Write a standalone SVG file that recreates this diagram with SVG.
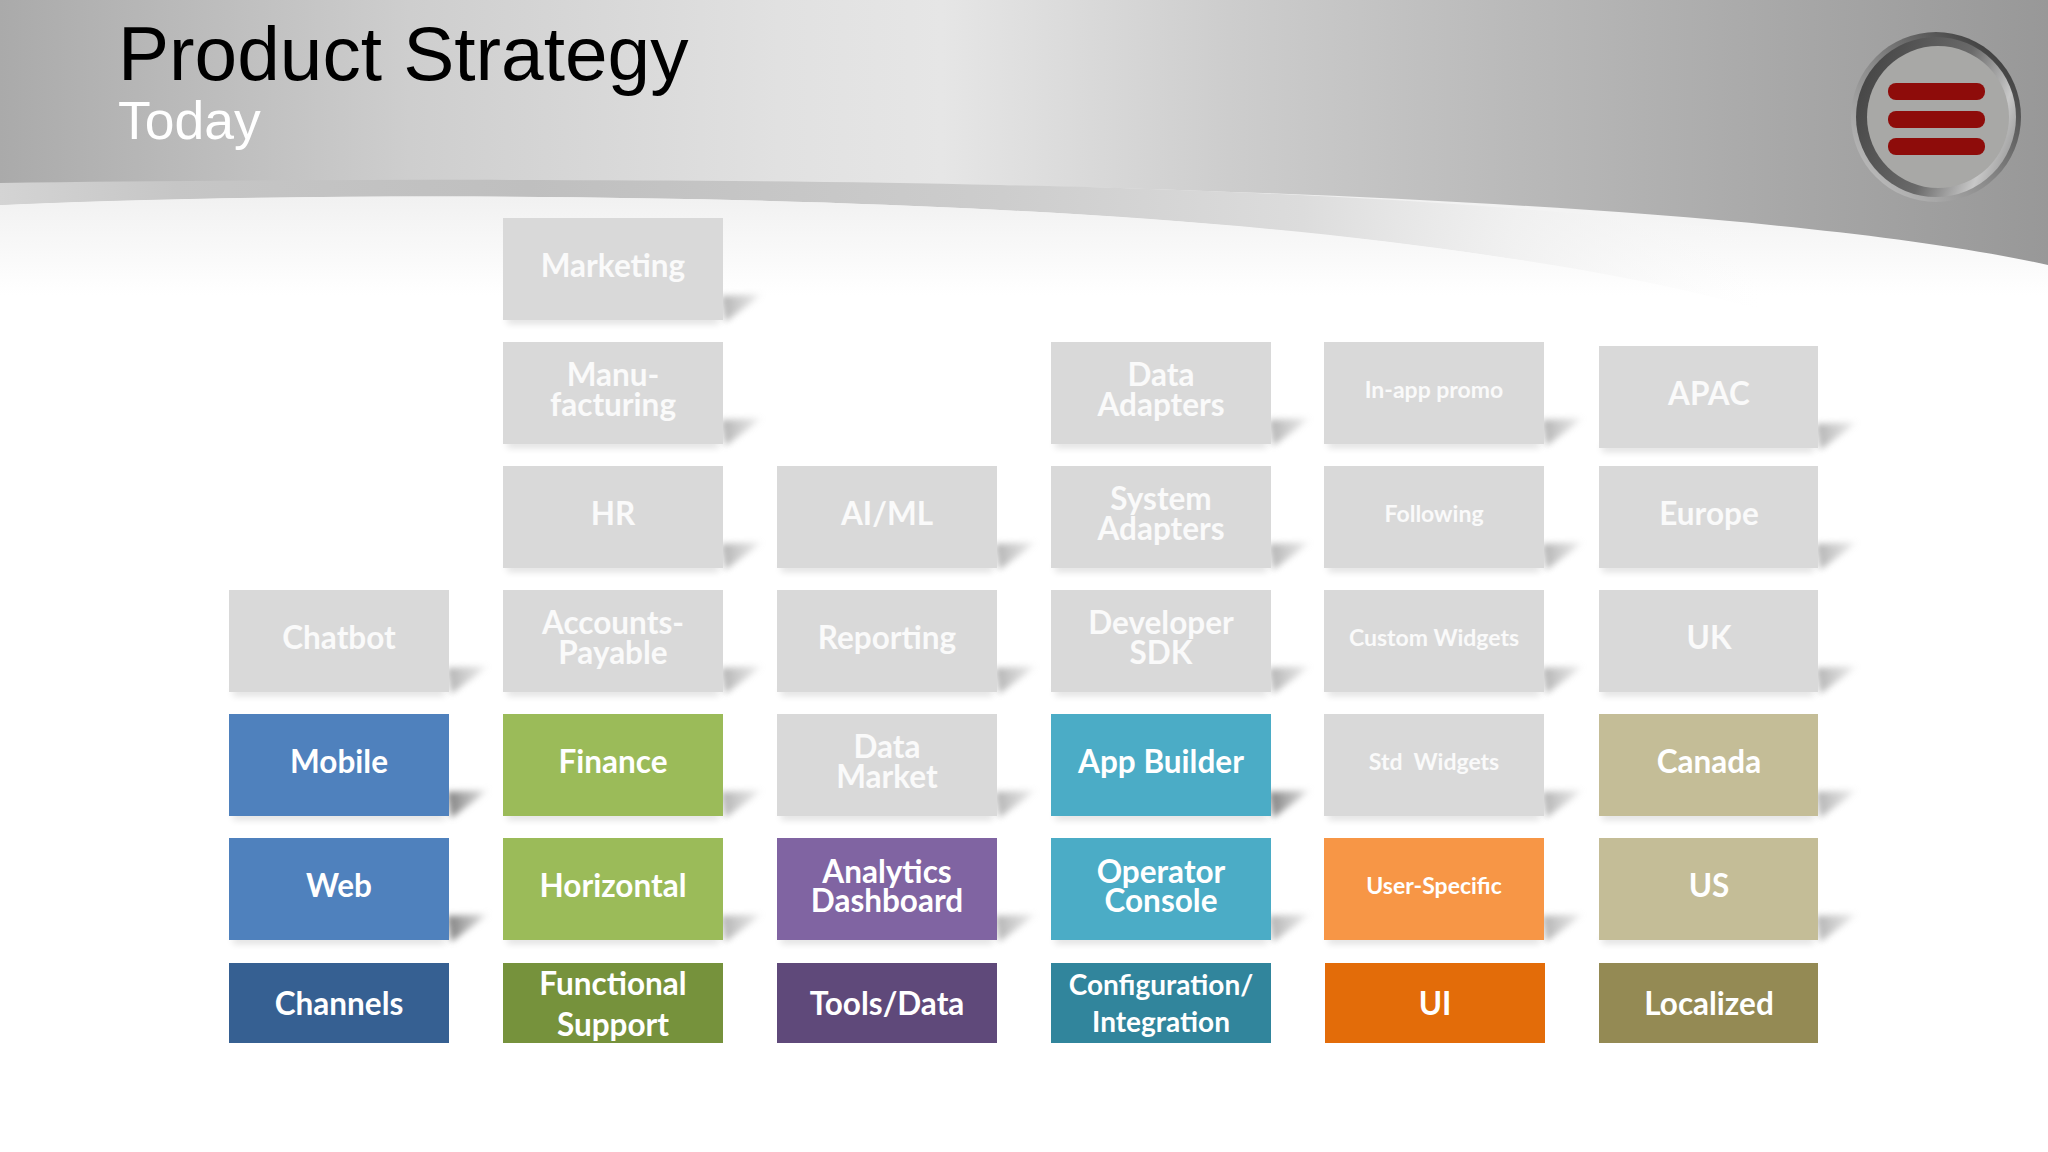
<svg xmlns="http://www.w3.org/2000/svg" width="2048" height="1152" viewBox="0 0 2048 1152">
<defs>
<linearGradient id="hdr" x1="0" x2="1" y1="0" y2="0"><stop offset="0" stop-color="#aaaaaa"/><stop offset=".1" stop-color="#bcbcbc"/><stop offset=".2" stop-color="#cecece"/><stop offset=".38" stop-color="#e1e1e1"/><stop offset=".46" stop-color="#e6e6e6"/><stop offset=".6" stop-color="#cdcdcd"/><stop offset=".75" stop-color="#b8b8b8"/><stop offset=".9" stop-color="#a4a4a4"/><stop offset="1" stop-color="#989898"/></linearGradient>
<linearGradient id="band" gradientUnits="userSpaceOnUse" x1="0" x2="1760" y1="0" y2="0"><stop offset="0" stop-color="#d4d4d4"/><stop offset=".1" stop-color="#c6c6c6"/><stop offset=".3" stop-color="#bfbfbf"/><stop offset=".57" stop-color="#cdcdcd"/><stop offset=".74" stop-color="#dcdcdc"/><stop offset=".86" stop-color="#efefef" stop-opacity=".8"/><stop offset="1" stop-color="#fafafa" stop-opacity="0"/></linearGradient>
<linearGradient id="fade" gradientUnits="userSpaceOnUse" x1="0" x2="0" y1="190" y2="295"><stop offset="0" stop-color="#f0f0f0"/><stop offset="1" stop-color="#ffffff"/></linearGradient>
<linearGradient id="ring" x1="0" x2="1" y1="0.3" y2="0.7"><stop offset="0" stop-color="#454545"/><stop offset=".55" stop-color="#6a6a6a"/><stop offset=".85" stop-color="#c8c8c8"/><stop offset="1" stop-color="#9a9a9a"/></linearGradient>
<linearGradient id="rim" x1="0.1" x2="0.9" y1="0.9" y2="0.1"><stop offset="0" stop-color="#bdbdbd"/><stop offset=".45" stop-color="#8a8a8a"/><stop offset="1" stop-color="#3a3a3a"/></linearGradient>
<linearGradient id="sg" x1="0" x2="1" y1="0" y2="0"><stop offset="0" stop-color="#7a7a7a"/><stop offset=".7" stop-color="#b0b0b0" stop-opacity=".7"/><stop offset="1" stop-color="#c8c8c8" stop-opacity=".15"/></linearGradient>
<filter id="b1" filterUnits="userSpaceOnUse" x="200" y="50" width="90" height="80"><feGaussianBlur stdDeviation="3"/></filter>
<filter id="b2" filterUnits="userSpaceOnUse" x="-20" y="80" width="260" height="50"><feGaussianBlur stdDeviation="3.5"/></filter>
<symbol id="s" overflow="visible"><rect x="4" y="98" width="212" height="8" fill="#000" opacity=".12" filter="url(#b2)"/><polygon points="218,78 260,76 222,104" fill="url(#sg)" opacity=".6" filter="url(#b1)"/></symbol>
<symbol id="sd" overflow="visible"><rect x="4" y="98" width="212" height="8" fill="#000" opacity=".12" filter="url(#b2)"/><polygon points="218,78 260,76 222,104" fill="url(#sg)" filter="url(#b1)"/></symbol>
</defs>
<style>
text{font-family:Lato,"Open Sans",sans-serif;font-weight:700;fill:#fff;text-anchor:middle}
.l{font-size:31.5px}.m{font-size:23px}.c{font-size:28px}.g{fill:#d9d9d9}
.t{fill:#fafafa}
.blue{fill:#4f81bd}.dblue{fill:#366092}.green{fill:#9bbb59}.dgreen{fill:#76923c}.pur{fill:#8064a2}.dpur{fill:#5f497a}.teal{fill:#4bacc6}.dteal{fill:#31859c}.or{fill:#f79646}.dor{fill:#e36c09}.tan{fill:#c4bd97}.dtan{fill:#948a54}
</style>
<rect width="2048" height="1152" fill="#fff"/>
<rect width="2048" height="290" fill="url(#hdr)"/>
<path d="M0 205C300 192 700 194 1000 206L1000 185C1300 192 1800 210 2048 265V300H0Z" fill="url(#fade)"/>
<path d="M0 183C300 179 700 178 1000 185C1250 190 1500 202 1760 232L1760 310C1600 262 1300 225 1000 210C700 194 300 192 0 205Z" fill="url(#band)"/>
<path d="M0 205C300 192 700 194 1000 210C1300 225 1550 255 1760 310H0V290Z" fill="url(#fade)"/>
<text x="118" y="80" style="font-family:'Liberation Sans',sans-serif;font-weight:400;font-size:76.6px;text-anchor:start;fill:#000">Product Strategy</text>
<text x="118" y="139" style="font-family:'Liberation Sans',sans-serif;font-weight:400;font-size:53.5px;text-anchor:start;fill:#fff">Today</text>
<g id="logo">
<circle cx="1936" cy="117" r="85" fill="url(#rim)"/>
<circle cx="1936" cy="117" r="80" fill="url(#ring)"/>
<circle cx="1938" cy="117" r="71" fill="#a8a8a6"/>
<rect x="1888" y="83" width="97" height="17" rx="8" fill="#8e0c0a"/>
<rect x="1888" y="111" width="97" height="17" rx="8" fill="#8e0c0a"/>
<rect x="1888" y="138" width="97" height="17" rx="8" fill="#8e0c0a"/>
</g>
<g id="connectors"/>
<g id="n-marketing"><use href="#s" x="503" y="218"/><rect class="g" x="503" y="218" width="220" height="102"/><text class="l t" x="613" y="277">Marketing</text></g>
<g id="n-manufacturing"><use href="#s" x="503" y="342"/><rect class="g" x="503" y="342" width="220" height="102"/><text class="l t" x="613" y="386">Manu-</text><text class="l t" x="613" y="416">facturing</text></g>
<g id="n-hr"><use href="#s" x="503" y="466"/><rect class="g" x="503" y="466" width="220" height="102"/><text class="l t" x="613" y="525">HR</text></g>
<g id="n-accounts"><use href="#s" x="503" y="590"/><rect class="g" x="503" y="590" width="220" height="102"/><text class="l t" x="613" y="634">Accounts-</text><text class="l t" x="613" y="664">Payable</text></g>
<g id="n-finance"><use href="#s" x="503" y="714"/><rect class="green" x="503" y="714" width="220" height="102"/><text class="l" x="613" y="773">Finance</text></g>
<g id="n-horizontal"><use href="#s" x="503" y="838"/><rect class="green" x="503" y="838" width="220" height="102"/><text class="l" x="613" y="897">Horizontal</text></g>
<g id="n-functional"><rect class="dgreen" x="503" y="963" width="220" height="80"/><text class="l" x="613" y="995">Functional</text><text class="l" x="613" y="1036">Support</text></g>
<g id="n-chatbot"><use href="#s" x="229" y="590"/><rect class="g" x="229" y="590" width="220" height="102"/><text class="l t" x="339" y="649">Chatbot</text></g>
<g id="n-mobile"><use href="#sd" x="229" y="714"/><rect class="blue" x="229" y="714" width="220" height="102"/><text class="l" x="339" y="773">Mobile</text></g>
<g id="n-web"><use href="#sd" x="229" y="838"/><rect class="blue" x="229" y="838" width="220" height="102"/><text class="l" x="339" y="897">Web</text></g>
<g id="n-channels"><rect class="dblue" x="229" y="963" width="220" height="80"/><text class="l" x="339" y="1015">Channels</text></g>
<g id="n-aiml"><use href="#s" x="777" y="466"/><rect class="g" x="777" y="466" width="220" height="102"/><text class="l t" x="887" y="525">AI/ML</text></g>
<g id="n-reporting"><use href="#s" x="777" y="590"/><rect class="g" x="777" y="590" width="220" height="102"/><text class="l t" x="887" y="649">Reporting</text></g>
<g id="n-datamarket"><use href="#s" x="777" y="714"/><rect class="g" x="777" y="714" width="220" height="102"/><text class="l t" x="887" y="758">Data</text><text class="l t" x="887" y="788">Market</text></g>
<g id="n-analytics"><use href="#s" x="777" y="838"/><rect class="pur" x="777" y="838" width="220" height="102"/><text class="l" x="887" y="883">Analytics</text><text class="l" x="887" y="912">Dashboard</text></g>
<g id="n-tools"><rect class="dpur" x="777" y="963" width="220" height="80"/><text class="l" x="887" y="1015">Tools/Data</text></g>
<g id="n-dataadapters"><use href="#s" x="1051" y="342"/><rect class="g" x="1051" y="342" width="220" height="102"/><text class="l t" x="1161" y="386">Data</text><text class="l t" x="1161" y="416">Adapters</text></g>
<g id="n-sysadapters"><use href="#s" x="1051" y="466"/><rect class="g" x="1051" y="466" width="220" height="102"/><text class="l t" x="1161" y="510">System</text><text class="l t" x="1161" y="540">Adapters</text></g>
<g id="n-sdk"><use href="#s" x="1051" y="590"/><rect class="g" x="1051" y="590" width="220" height="102"/><text class="l t" x="1161" y="634">Developer</text><text class="l t" x="1161" y="664">SDK</text></g>
<g id="n-appbuilder"><use href="#sd" x="1051" y="714"/><rect class="teal" x="1051" y="714" width="220" height="102"/><text class="l" x="1161" y="773">App Builder</text></g>
<g id="n-console"><use href="#s" x="1051" y="838"/><rect class="teal" x="1051" y="838" width="220" height="102"/><text class="l" x="1161" y="883">Operator</text><text class="l" x="1161" y="912">Console</text></g>
<g id="n-config"><rect class="dteal" x="1051" y="963" width="220" height="80"/><text class="c" x="1161" y="995">Configuration/</text><text class="c" x="1161" y="1032">Integration</text></g>
<g id="n-inapp"><use href="#s" x="1324" y="342"/><rect class="g" x="1324" y="342" width="220" height="102"/><text class="m t" x="1434" y="398">In-app promo</text></g>
<g id="n-following"><use href="#s" x="1324" y="466"/><rect class="g" x="1324" y="466" width="220" height="102"/><text class="m t" x="1434" y="522">Following</text></g>
<g id="n-custom"><use href="#s" x="1324" y="590"/><rect class="g" x="1324" y="590" width="220" height="102"/><text class="m t" x="1434" y="646">Custom Widgets</text></g>
<g id="n-std"><use href="#s" x="1324" y="714"/><rect class="g" x="1324" y="714" width="220" height="102"/><text class="m t" x="1434" y="770" xml:space="preserve">Std  Widgets</text></g>
<g id="n-user"><use href="#s" x="1324" y="838"/><rect class="or" x="1324" y="838" width="220" height="102"/><text class="m" x="1434" y="894">User-Specific</text></g>
<g id="n-ui"><rect class="dor" x="1325" y="963" width="220" height="80"/><text class="l" x="1435" y="1015">UI</text></g>
<g id="n-apac"><use href="#s" x="1598" y="346"/><rect class="g" x="1599" y="346" width="219" height="102"/><text class="l t" x="1709" y="405">APAC</text></g>
<g id="n-europe"><use href="#s" x="1598" y="466"/><rect class="g" x="1599" y="466" width="219" height="102"/><text class="l t" x="1709" y="525">Europe</text></g>
<g id="n-uk"><use href="#s" x="1598" y="590"/><rect class="g" x="1599" y="590" width="219" height="102"/><text class="l t" x="1709" y="649">UK</text></g>
<g id="n-canada"><use href="#s" x="1598" y="714"/><rect class="tan" x="1599" y="714" width="219" height="102"/><text class="l" x="1709" y="773">Canada</text></g>
<g id="n-us"><use href="#s" x="1598" y="838"/><rect class="tan" x="1599" y="838" width="219" height="102"/><text class="l" x="1709" y="897">US</text></g>
<g id="n-localized"><rect class="dtan" x="1599" y="963" width="219" height="80"/><text class="l" x="1709" y="1015">Localized</text></g>
</svg>
